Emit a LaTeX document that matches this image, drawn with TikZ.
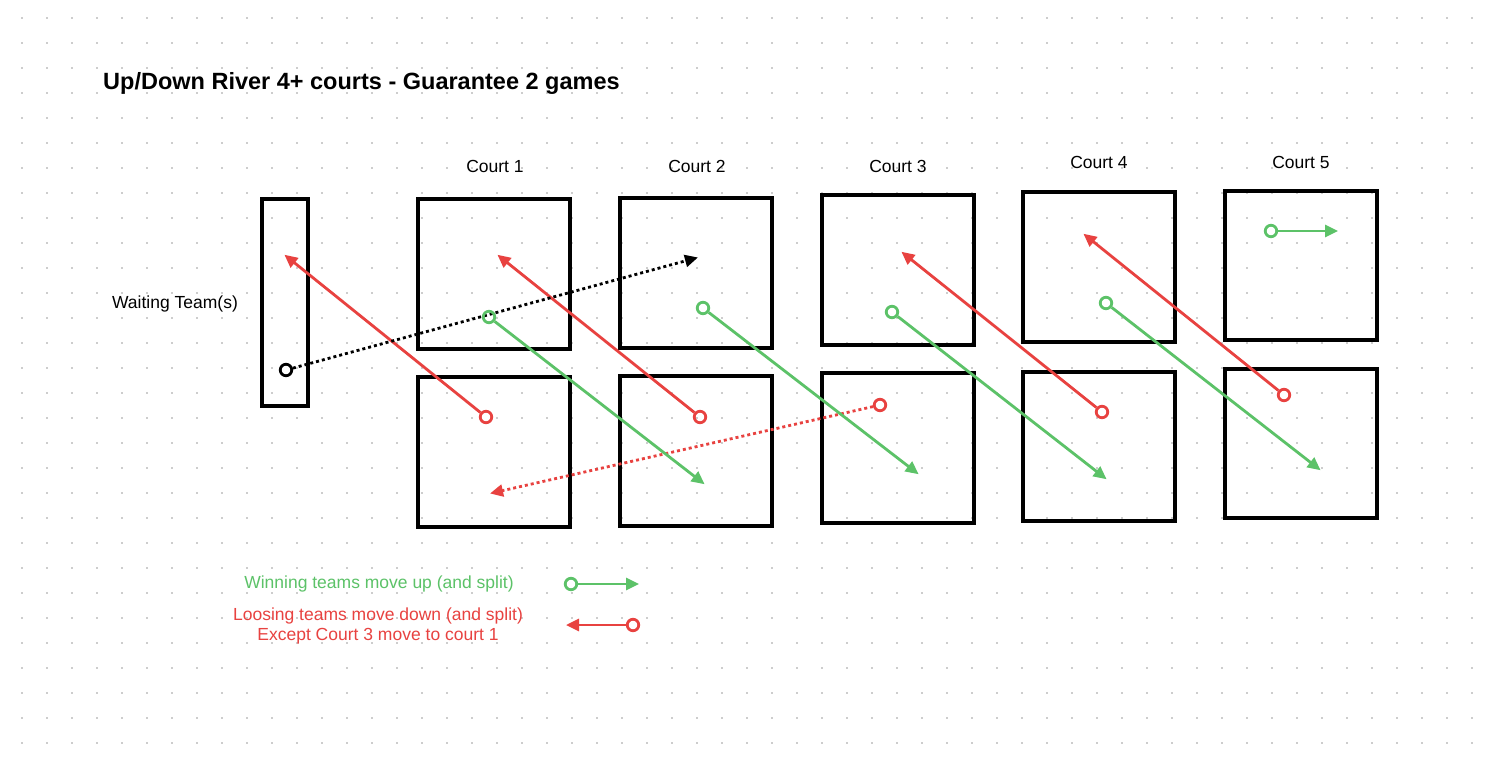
\documentclass[tikz,border=0pt]{standalone}
\usepackage{fontspec}
\setmainfont{Liberation Sans}
\usetikzlibrary{arrows.meta}
\definecolor{gridgray}{RGB}{205,205,205}
\definecolor{wingreen}{RGB}{92,194,104}
\definecolor{loosered}{RGB}{232,66,64}
\begin{document}
\begin{tikzpicture}[x=1pt,y=-1pt,
  court/.style={draw=black,line width=3.3pt},
  lbl/.style={font=\fontsize{17.5}{21}\selectfont,inner sep=0pt},
  dotc/.style={circle,draw,line width=2.8pt,minimum size=11.5pt,inner sep=0pt},
  tip/.style={-{Triangle[length=13pt,width=12pt]}},
  mv/.style={tip,line width=2.8pt,shorten >=-2pt},
  dots/.style={dash pattern=on 3pt off 3pt},
]
\useasboundingbox (0,0) rectangle (1491,756);
\fill[white] (0,0) rectangle (1491,756);
% dot grid
\foreach \i in {0,...,59}{
  \foreach \j in {0,...,29}{
    \fill[gridgray] (22+25*\i-1,18+25*\j-1) rectangle (22+25*\i+1,18+25*\j+1);
  }
}
% title
\node[anchor=west,inner sep=0pt,font=\fontsize{23.5}{27}\selectfont\bfseries] (title) at (103,83) {Up/Down River 4+ courts - Guarantee 2 games};
% court labels
\node[lbl] (l1) at (495,166) {Court 1};
\node[lbl] (l2) at (697,166) {Court 2};
\node[lbl] (l3) at (898,166) {Court 3};
\node[lbl] (l4) at (1099,162) {Court 4};
\node[lbl] (l5) at (1301,162) {Court 5};
\node[lbl] (wt) at (175,304) {Waiting Team(s)};
% boxes
\draw[court] (262,199) rectangle (308,406);
\draw[court] (418,199) rectangle (570,349);
\draw[court] (418,377) rectangle (570,527);
\draw[court] (620,198) rectangle (772,348);
\draw[court] (620,376) rectangle (772,526);
\draw[court] (822,195) rectangle (974,345);
\draw[court] (822,373) rectangle (974,523);
\draw[court] (1023,192) rectangle (1175,342);
\draw[court] (1023,372) rectangle (1175,521);
\draw[court] (1225,191) rectangle (1377,340);
\draw[court] (1225,369) rectangle (1377,518);
% red (losing) moves
\node[dotc,draw=loosered] (r1) at (486,417) {};
\coordinate (rt1) at (286,256);
\node[dotc,draw=loosered] (r2) at (700,417) {};
\coordinate (rt2) at (499,256);
\node[dotc,draw=loosered] (r3) at (880,405) {};
\coordinate (rt3) at (492,493);
\node[dotc,draw=loosered] (r4) at (1102,412) {};
\coordinate (rt4) at (903,253);
\node[dotc,draw=loosered] (r5) at (1284,395) {};
\coordinate (rt5) at (1085,235);
\draw[mv,loosered] (r1) -- (rt1);
\draw[mv,loosered] (r2) -- (rt2);
\draw[mv,loosered,dots] (r3) -- (rt3);
\draw[mv,loosered] (r4) -- (rt4);
\draw[mv,loosered] (r5) -- (rt5);
% black waiting move
\node[dotc,draw=black] (b1) at (286,370) {};
\coordinate (bt1) at (696,258);
\draw[mv,black,dots] (b1) -- (bt1);
% green (winning) moves
\node[dotc,draw=wingreen] (g1) at (489,317) {};
\coordinate (gt1) at (703,483);
\node[dotc,draw=wingreen] (g2) at (703,308) {};
\coordinate (gt2) at (917,473);
\node[dotc,draw=wingreen] (g3) at (892,312) {};
\coordinate (gt3) at (1105,478);
\node[dotc,draw=wingreen] (g4) at (1106,303) {};
\coordinate (gt4) at (1319,469);
\node[dotc,draw=wingreen] (g5) at (1271,231) {};
\coordinate (gt5) at (1336,231);
\draw[mv,wingreen] (g1) -- (gt1);
\draw[mv,wingreen] (g2) -- (gt2);
\draw[mv,wingreen] (g3) -- (gt3);
\draw[mv,wingreen] (g4) -- (gt4);
\draw[mv,wingreen] (g5) -- (gt5);
% legend
\node[lbl,text=wingreen] (lw) at (379,584) {Winning teams move up (and split)};
\node[lbl,text=loosered,align=center,font=\fontsize{17.5}{20}\selectfont] (ll) at (378,626) {Loosing teams move down (and split)\\Except Court 3 move to court 1};
\node[dotc,draw=wingreen] (lg) at (571,584) {};
\coordinate (lgt) at (637,584);
\draw[mv,wingreen] (lg) -- (lgt);
\node[dotc,draw=loosered] (lr) at (633,625) {};
\coordinate (lrt) at (568,625);
\draw[mv,loosered] (lr) -- (lrt);
\end{tikzpicture}
\end{document}
